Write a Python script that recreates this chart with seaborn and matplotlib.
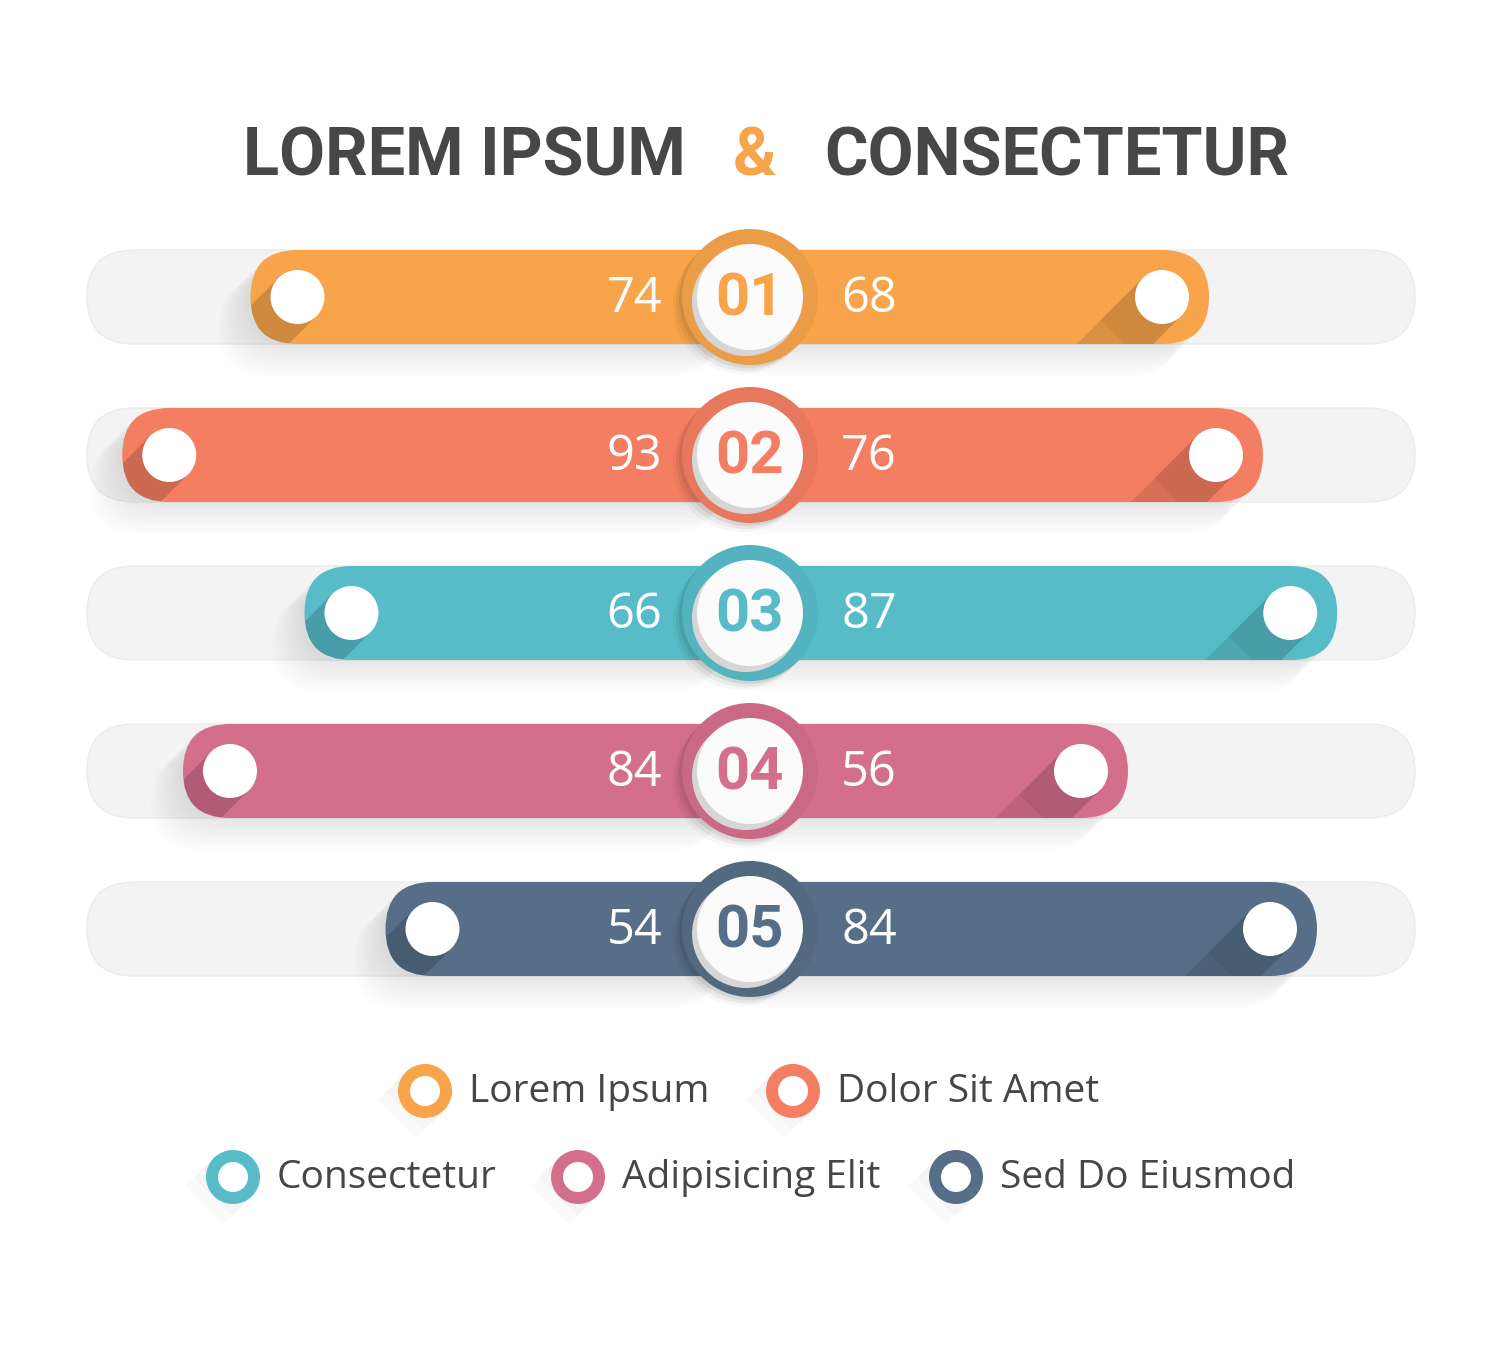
import numpy as np
import pandas as pd
import matplotlib
matplotlib.use("Agg")
import matplotlib.pyplot as plt
import matplotlib.colors as mcolors
from matplotlib.patches import FancyBboxPatch, Ellipse, Polygon
import seaborn as sns

# data
rows = ["01", "02", "03", "04", "05"]
left_vals = [74, 93, 66, 84, 54]
right_vals = [68, 76, 87, 56, 84]
series = ["Lorem Ipsum", "Dolor Sit Amet", "Consectetur", "Adipisicing Elit", "Sed Do Eiusmod"]
colors = ["#F7A44B", "#F37E62", "#57BCC8", "#D46E8D", "#566E87"]

W, H = 1500, 1357
PX = 6.75          # pixels per value unit
ROW0, STEP = 297, 158
BAR_H = 94
CAP = BAR_H / 2 / PX   # round cap radius in value units

sns.set_style("white")
plt.rcParams["font.family"] = ["Open Sans", "DejaVu Sans"]


def xd(px):
    return (px - W / 2) / PX


def yd(py):
    return (py - ROW0) / STEP


def circle(ax, cx, cy, r_px, **kw):
    # cx, cy in data coords, radius in pixels
    e = Ellipse((cx, cy), 2 * r_px / PX, 2 * r_px / STEP, **kw)
    ax.add_patch(e)
    return e


def pill(ax, x0, y0, w, h, **kw):
    if w < 0:
        x0, w = x0 + w, -w
    p = FancyBboxPatch((x0, y0), w, h,
                       boxstyle=f"round,pad=0,rounding_size={CAP}",
                       mutation_aspect=PX / STEP, **kw)
    ax.add_patch(p)
    return p


def long_shadow(ax, cpx, cpy, r, length, alpha, clip=None, z=4):
    # 45 degree shadow towards lower-left, built in pixel space
    n = np.array([1, 1]) / np.sqrt(2)
    dv = np.array([-1, 1]) / np.sqrt(2)
    c = np.array([cpx, cpy])
    for frac in (1.0, 0.7, 0.4):
        L = length * frac
        pts = [c + r * n, c + r * n + L * dv, c - r * n + L * dv, c - r * n]
        poly = Polygon([(xd(p_[0]), yd(p_[1])) for p_ in pts],
                       facecolor="black", alpha=alpha, lw=0, zorder=z)
        ax.add_patch(poly)
        if clip is not None:
            poly.set_clip_path(clip)


def darker(c, f):
    r, g, b = mcolors.to_rgb(c)
    return (r * f, g * f, b * f)


fig = plt.figure(figsize=(W / 100, H / 100), dpi=100)
ax = fig.add_axes([0, 0, 1, 1])

left_df = pd.DataFrame({"row": rows, "value": [-v for v in left_vals]})
right_df = pd.DataFrame({"row": rows, "value": right_vals})

for d in (left_df, right_df):
    sns.barplot(data=d, x="value", y="row", hue="row", palette=colors, saturation=1,
                width=BAR_H / STEP, orient="h", errorbar=None, legend=False, ax=ax)

ax.set_xlim(xd(0), xd(W))
ax.set_ylim(yd(H), yd(0))
ax.axis("off")

# turn seaborn rectangles into rounded pills
bars = []
for p in list(ax.patches):
    x, w = p.get_x(), p.get_width()
    if w < 0:
        x, w = x + w, -w
    bars.append((x, p.get_y(), w, p.get_height(), p.get_facecolor()))
    p.remove()

half_h = BAR_H / 2 / STEP
track_l, track_r = xd(87), xd(1415)
for i in range(len(rows)):
    pill(ax, track_l, i - half_h, track_r - track_l, 2 * half_h,
         facecolor="#f3f3f3", edgecolor="#ebebeb", lw=1, zorder=1)

for x, y, w, h, fc in bars:
    # soft drop shadow to lower-left
    for k in range(1, 9):
        pill(ax, x - 4 * k / PX, y + 4 * k / STEP, w, h,
             facecolor="black", alpha=0.012, lw=0, zorder=2)

for x, y, w, h, fc in bars:
    bar = pill(ax, x, y, w, h, facecolor=fc, lw=0, zorder=3)
    row = y + h / 2
    # white knob at the outer end
    cx = x + CAP if x < 0 else x + w - CAP
    long_shadow(ax, W / 2 + cx * PX, ROW0 + row * STEP, 27, 150, 0.055, clip=bar)
    circle(ax, cx, row, 27, facecolor="white", lw=0, zorder=5)

# centre badges
for i, (num, col) in enumerate(zip(rows, colors)):
    for k, a in ((3, 0.07), (6, 0.05), (9, 0.03)):
        circle(ax, xd(750 - k), i + k / STEP, 68, facecolor="black", alpha=a, lw=0, zorder=6)
    circle(ax, 0, i, 68, facecolor=darker(col, 0.95), lw=0, zorder=7)
    circle(ax, xd(746), i + 5 / STEP, 54, facecolor="#d6d6d6", lw=0, zorder=8)
    circle(ax, 0, i, 53, facecolor="#fbfbfb", lw=0, zorder=9)
    ax.text(0, i + 3 / STEP, num, ha="center", va="center", fontsize=43,
            fontweight="bold", color=col, family=["Roboto", "DejaVu Sans"], zorder=10)
    ax.text(xd(662), i + 2 / STEP, str(left_vals[i]), ha="right", va="center",
            fontsize=35, color="white", zorder=10)
    ax.text(xd(841), i + 2 / STEP, str(right_vals[i]), ha="left", va="center",
            fontsize=35, color="white", zorder=10)

# title
ty = 1 - 175 / H
title_font = ["Roboto", "DejaVu Sans"]
fig.text(686 / W, ty, "LOREM IPSUM", ha="right", va="baseline", fontsize=48,
         fontweight="bold", color="#474747", family=title_font)
fig.text(755 / W, ty, "&", ha="center", va="baseline", fontsize=48,
         fontweight="bold", color="#F7A44B", family=title_font)
fig.text(824 / W, ty, "CONSECTETUR", ha="left", va="baseline", fontsize=48,
         fontweight="bold", color="#474747", family=title_font)

# legend
leg_pos = [(425, 1091), (793, 1091), (233, 1177), (578, 1177), (956, 1177)]
for (px, py), name, col in zip(leg_pos, series, colors):
    long_shadow(ax, px, py, 27, 40, 0.02, z=2)
    circle(ax, xd(px), yd(py), 27, facecolor=col, lw=0, zorder=3)
    circle(ax, xd(px), yd(py), 15, facecolor="white", lw=0, zorder=4)
    fig.text((px + 44) / W, 1 - (py + 1) / H, name, ha="left", va="center",
             fontsize=28, color="#464646")

fig.savefig("out.png", dpi=100, facecolor="white")
